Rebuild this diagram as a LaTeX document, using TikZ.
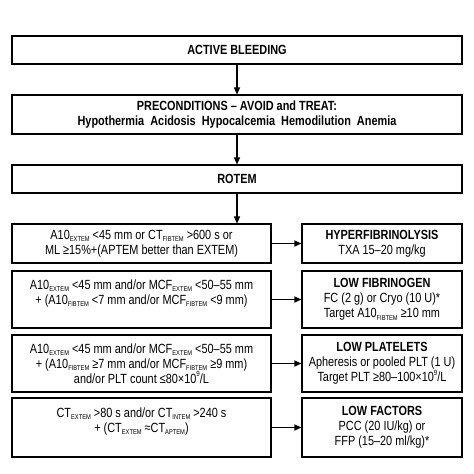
\documentclass[tikz,border=0pt]{standalone}
\usepackage{fontspec}
\setmainfont{Liberation Sans}[FakeStretch=0.82]
\usetikzlibrary{arrows.meta}
\newcommand\lowidx[1]{\raisebox{-0.35ex}{\fontsize{7}{7}\selectfont #1}}
\newcommand\supidx[1]{\raisebox{0.9ex}{\fontsize{7.5}{7.5}\selectfont #1}}
\begin{document}
\begin{tikzpicture}[x=1pt,y=-1pt,
  box/.style={draw,line width=1.1pt,inner sep=0pt,align=center,font=\fontsize{13.3}{15}\selectfont},
  wide/.style={box,minimum width=450pt},
  cond/.style={box,minimum width=259pt},
  res/.style={box,minimum width=160pt},
  arr/.style={line width=1.1pt,-{Triangle[length=7pt,width=6pt]}}]
\useasboundingbox (0,0) rectangle (474,474);
\node[wide,minimum height=28pt,font=\fontsize{13.3}{15}\selectfont\bfseries] (bleed) at (237,50) {ACTIVE BLEEDING};
\node[wide,minimum height=39pt,font=\fontsize{13.3}{15}\selectfont\bfseries] (pre) at (237,114.5) {PRECONDITIONS -- AVOID and TREAT:\\Hypothermia\ \ Acidosis\ \ Hypocalcemia\ \ Hemodilution\ \ Anemia};
\node[wide,minimum height=28pt,font=\fontsize{13.3}{15}\selectfont\bfseries] (rotem) at (237,179) {ROTEM};
\node[cond,minimum height=39pt] (c1) at (141.5,243.5) {A10\lowidx{EXTEM} <45 mm or CT\lowidx{FIBTEM} >600 s or\\ML ≥15\%+(APTEM better than EXTEM)};
\node[res,minimum height=39pt] (r1) at (382,243.5) {\textbf{HYPERFIBRINOLYSIS}\\TXA 15--20 mg/kg};
\node[cond,minimum height=57pt] (c2) at (141.5,299.5) {A10\lowidx{EXTEM} <45 mm and/or MCF\lowidx{EXTEM} <50--55 mm\\+ (A10\lowidx{FIBTEM} <7 mm and/or MCF\lowidx{FIBTEM} <9 mm)\\\mbox{}};
\node[res,minimum height=57pt] (r2) at (382,299.5) {\textbf{LOW FIBRINOGEN}\\FC (2 g) or Cryo (10 U)*\\Target A10\lowidx{FIBTEM} ≥10 mm};
\node[cond,minimum height=57pt] (c3) at (141.5,363.5) {A10\lowidx{EXTEM} <45 mm and/or MCF\lowidx{EXTEM} <50--55 mm\\+ (A10\lowidx{FIBTEM} ≥7 mm and/or MCF\lowidx{FIBTEM} ≥9 mm)\\and/or PLT count ≤80×10\supidx{9}/L};
\node[res,minimum height=57pt] (r3) at (382,363.5) {\textbf{LOW PLATELETS}\\Apheresis or pooled PLT (1 U)\\Target PLT ≥80--100×10\supidx{9}/L};
\node[cond,minimum height=59pt] (c4) at (141.5,427.5) {CT\lowidx{EXTEM} >80 s and/or CT\lowidx{INTEM} >240 s\\+ (CT\lowidx{EXTEM} ≈CT\lowidx{APTEM})\\\mbox{}};
\node[res,minimum height=59pt] (r4) at (382,427.5) {\textbf{LOW FACTORS}\\PCC (20 IU/kg) or\\FFP (15--20 ml/kg)*};
\draw[arr] (bleed) -- (pre);
\draw[arr] (pre) -- (rotem);
\draw[arr] (rotem.south) -- (rotem.south |- c1.north);
\draw[arr] (c1) -- (r1);
\draw[arr] (c2) -- (r2);
\draw[arr] (c3) -- (r3);
\draw[arr] (c4) -- (r4);
\end{tikzpicture}
\end{document}
